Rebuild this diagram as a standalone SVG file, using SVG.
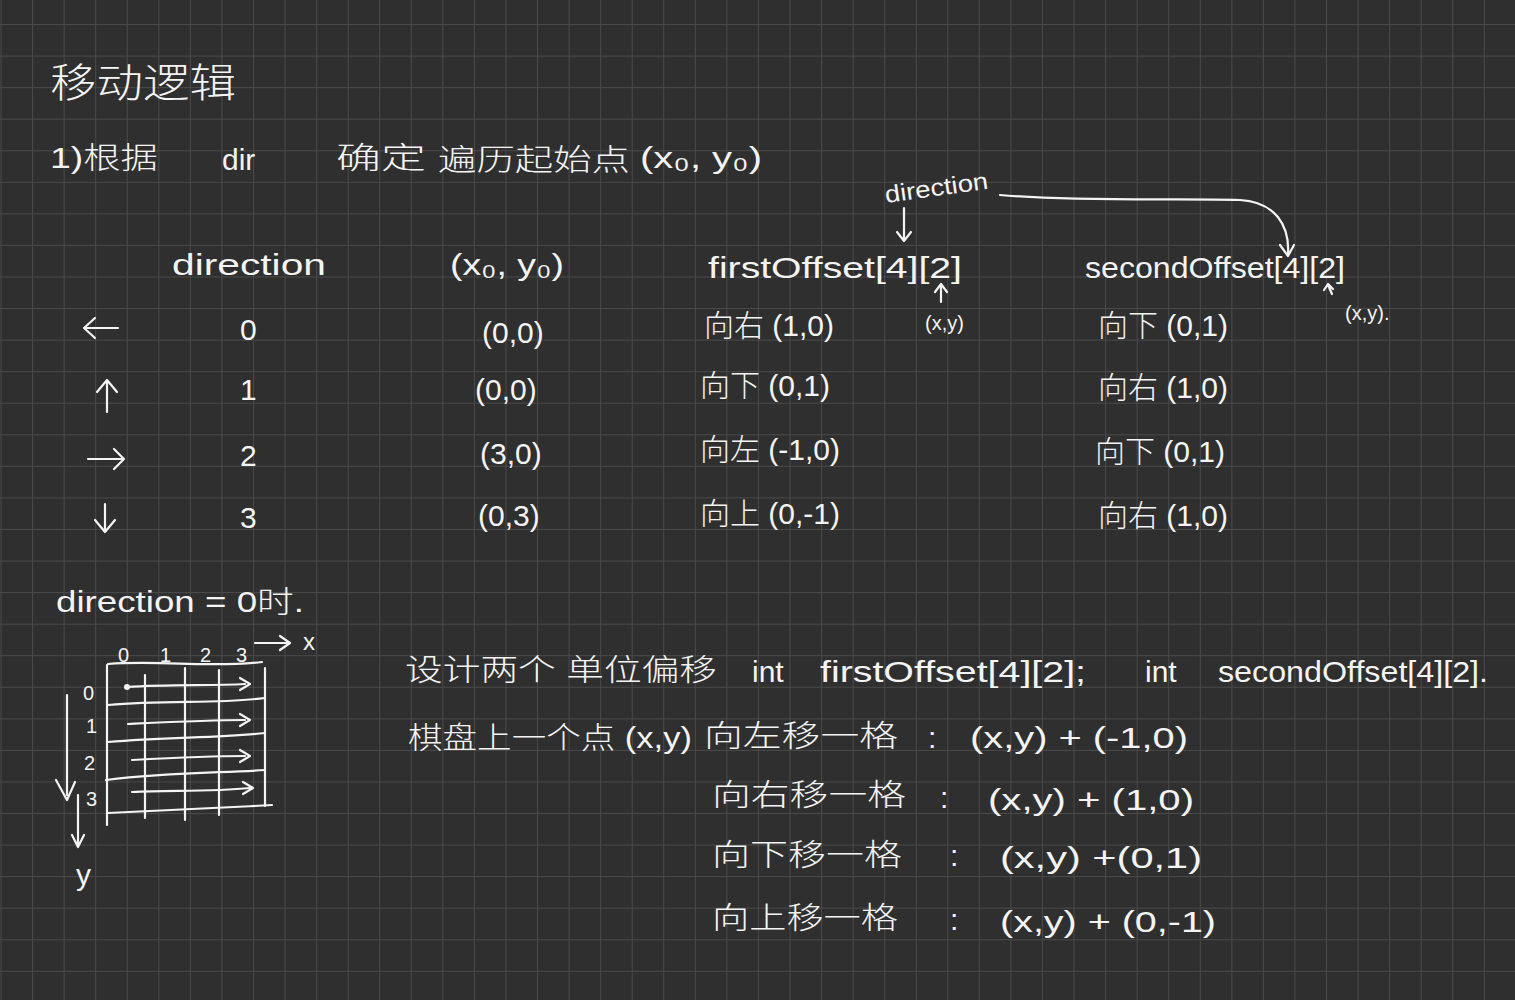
<svg xmlns="http://www.w3.org/2000/svg" width="1515" height="1000" viewBox="0 0 1515 1000">
<defs>
<pattern id="g" x="0.5" y="24" width="31.56" height="31.56" patternUnits="userSpaceOnUse">
<path d="M0 0H31.56M0 0V31.56" fill="none" stroke="#4a4a4a" stroke-width="2"/>
</pattern>
</defs>
<style>
text{fill:#f4f4f4;font-family:"Liberation Sans","Noto Sans CJK SC",sans-serif;font-size:30px;font-weight:300}
.s{font-size:24px}
.xs{font-size:20px}
.l{fill:none;stroke:#f4f4f4;stroke-width:2.2;stroke-linecap:round;stroke-linejoin:round}
</style>
<rect width="1515" height="1000" fill="#2f2f2f"/>
<rect width="1515" height="1000" fill="url(#g)"/>
<text x="50" y="97" style="font-size:40px" textLength="186" lengthAdjust="spacingAndGlyphs">移动逻辑</text>
<text x="50" y="168" textLength="108" lengthAdjust="spacingAndGlyphs">1)根据</text>
<text x="222" y="170">dir</text>
<text x="336" y="168" textLength="90" lengthAdjust="spacingAndGlyphs">确定</text>
<text x="438" y="170" textLength="192" lengthAdjust="spacingAndGlyphs">遍历起始点</text>
<text x="640" y="168" textLength="122" lengthAdjust="spacingAndGlyphs">(x₀, y₀)</text>

<text x="172" y="275" textLength="154" lengthAdjust="spacingAndGlyphs">direction</text>
<text x="450" y="275" textLength="114" lengthAdjust="spacingAndGlyphs">(x₀, y₀)</text>
<text x="708" y="278" textLength="254" lengthAdjust="spacingAndGlyphs">firstOffset[4][2]</text>
<text x="1085" y="278" textLength="260" lengthAdjust="spacingAndGlyphs">secondOffset[4][2]</text>
<text x="886" y="203" class="s" transform="rotate(-8 886 203)" textLength="104" lengthAdjust="spacingAndGlyphs">direction</text>
<g id="connectors">
<path class="l" d="M1000 195 C1080 202 1180 198 1240 200 C1275 202 1290 225 1288 255 M1280 245 L1288 256 L1294 245"/>
<path class="l" d="M904 208 V240 M897 232 L904 241 L911 232"/>
<path class="l" d="M941 302 V285 M935 292 L941 284 L947 292"/>
<path class="l" d="M1332 294 L1328 285 M1324 290 L1328 284 L1333 289"/>
</g>
<text x="925" y="330" class="xs">(x,y)</text>
<text x="1345" y="320" class="xs">(x,y).</text>

<path class="l" d="M84 328 H118 M95 318 L84 328 L95 338"/>
<path class="l" d="M107 380 V412 M97 392 L107 380 L117 392"/>
<path class="l" d="M88 459 H124 M114 449 L124 459 L114 469"/>
<path class="l" d="M105 504 V532 M95 520 L105 532 L115 520"/>

<text x="240" y="340">0</text><text x="482" y="343">(0,0)</text><text x="704" y="336">向右 (1,0)</text><text x="1098" y="336">向下 (0,1)</text>
<text x="240" y="400">1</text><text x="475" y="400">(0,0)</text><text x="700" y="396">向下 (0,1)</text><text x="1098" y="398">向右 (1,0)</text>
<text x="240" y="466">2</text><text x="480" y="464">(3,0)</text><text x="700" y="460">向左 (-1,0)</text><text x="1095" y="462">向下 (0,1)</text>
<text x="240" y="528">3</text><text x="478" y="526">(0,3)</text><text x="700" y="524">向上 (0,-1)</text><text x="1098" y="526">向右 (1,0)</text>

<text x="56" y="612" textLength="248" lengthAdjust="spacingAndGlyphs">direction = 0时.</text>
<text x="118" y="662" class="xs">0</text><text x="160" y="662" class="xs">1</text><text x="200" y="662" class="xs">2</text><text x="236" y="662" class="xs">3</text>
<path class="l" d="M255 643 H288 M280 636 L290 643 L280 650"/>
<text x="303" y="650" class="s">x</text>
<path class="l" d="M108 664 C160 660 210 668 262 662"/>
<path class="l" d="M107 665 V825 M145 675 V818 M185 668 V820 M219 670 V815 M265 668 V806"/>
<path class="l" d="M108 705 C170 700 220 704 265 698 M108 742 C170 737 220 738 265 733 M106 780 C170 772 220 773 265 770 M108 813 C170 810 220 808 272 805"/>
<path class="l" d="M127 687 C170 684 210 686 245 684 M128 724 C170 722 210 720 245 720 M132 760 C170 758 210 756 245 756 M132 792 C170 790 210 792 250 788"/>
<path class="l" d="M240 678 L250 684 L240 690 M240 714 L250 720 L240 726 M240 750 L250 756 L240 762 M243 782 L253 788 L243 794"/>
<circle cx="127" cy="687" r="3" fill="#f4f4f4"/>
<text x="83" y="700" class="xs">0</text><text x="86" y="733" class="xs">1</text><text x="84" y="770" class="xs">2</text><text x="86" y="806" class="xs">3</text>
<path class="l" d="M67 695 V795 M56 780 L67 800 L75 782"/>
<path class="l" d="M78 795 V845 M72 835 L78 847 L84 835"/>
<text x="76" y="885">y</text>

<text x="405" y="680" textLength="312" lengthAdjust="spacingAndGlyphs">设计两个 单位偏移</text>
<text x="752" y="682">int</text>
<text x="820" y="682" textLength="266" lengthAdjust="spacingAndGlyphs">firstOffset[4][2];</text>
<text x="1145" y="682">int</text>
<text x="1218" y="682" textLength="270" lengthAdjust="spacingAndGlyphs">secondOffset[4][2].</text>
<text x="408" y="748" textLength="284" lengthAdjust="spacingAndGlyphs">棋盘上一个点 (x,y)</text>
<text x="704" y="746" textLength="194" lengthAdjust="spacingAndGlyphs">向左移一格</text>
<text x="928" y="748">:</text>
<text x="970" y="748" textLength="218" lengthAdjust="spacingAndGlyphs">(x,y) + (-1,0)</text>
<text x="712" y="805" textLength="194" lengthAdjust="spacingAndGlyphs">向右移一格</text>
<text x="940" y="808">:</text>
<text x="988" y="810" textLength="206" lengthAdjust="spacingAndGlyphs">(x,y) + (1,0)</text>
<text x="712" y="865" textLength="190" lengthAdjust="spacingAndGlyphs">向下移一格</text>
<text x="950" y="866">:</text>
<text x="1000" y="868" textLength="202" lengthAdjust="spacingAndGlyphs">(x,y) +(0,1)</text>
<text x="712" y="928" textLength="186" lengthAdjust="spacingAndGlyphs">向上移一格</text>
<text x="950" y="930">:</text>
<text x="1000" y="932" textLength="216" lengthAdjust="spacingAndGlyphs">(x,y) + (0,-1)</text>
</svg>
